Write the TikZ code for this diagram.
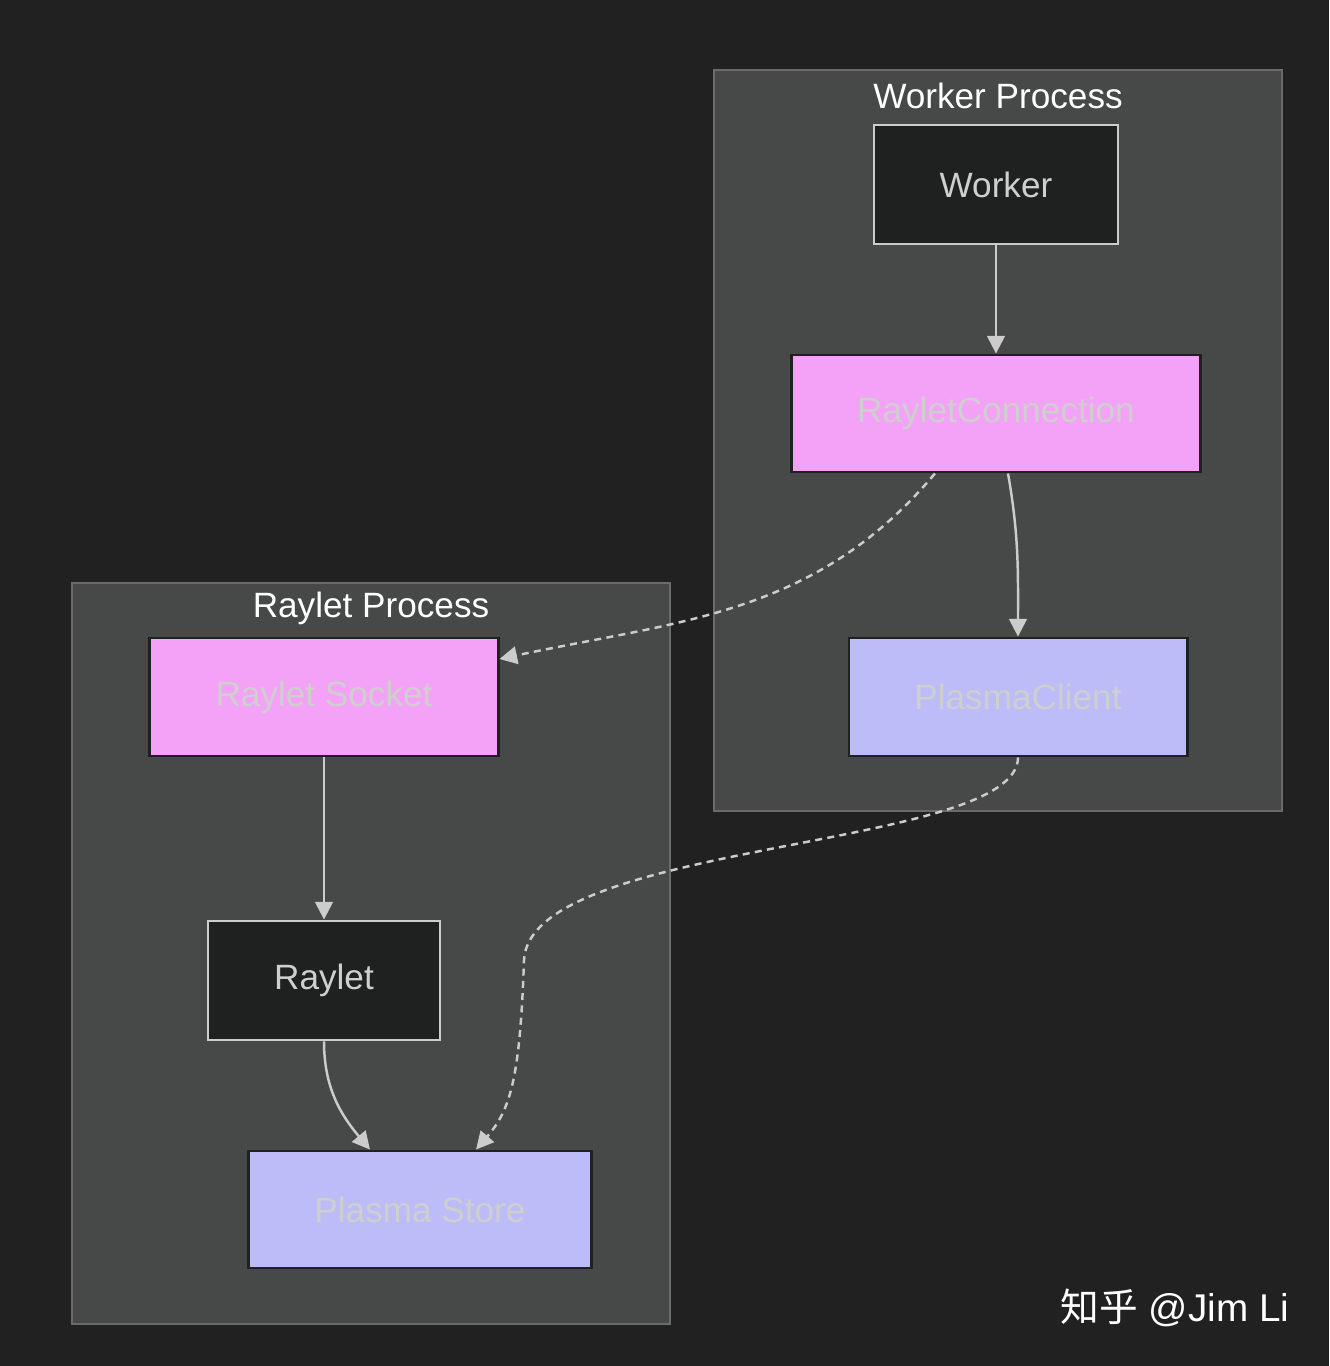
\documentclass[tikz,border=0pt]{standalone}
\usepackage{fontspec}
\setmainfont{Liberation Sans}
\newfontfamily\cjk{Noto Sans CJK SC}
\usetikzlibrary{arrows.meta}
\definecolor{bgdark}{HTML}{212121}
\definecolor{clusterfill}{HTML}{474848}
\definecolor{clusterline}{HTML}{6B6B6B}
\definecolor{nodedark}{HTML}{1F2020}
\definecolor{pinkfill}{HTML}{F4A2F7}
\definecolor{bluefill}{HTML}{BCBCF9}
\definecolor{edgegray}{HTML}{CCCCCC}
\definecolor{labelgray}{HTML}{CFCFCF}
\tikzset{
  box/.style={draw, line width=0.8pt, font=\fontsize{10}{12}\selectfont, text=labelgray},
  darkbox/.style={box, fill=nodedark, draw=edgegray},
  pinkbox/.style={box, fill=pinkfill, draw=nodedark},
  bluebox/.style={box, fill=bluefill, draw=nodedark},
  cluster/.style={fill=clusterfill, draw=clusterline, line width=0.8pt},
  title/.style={text=white, font=\fontsize{10}{12}\selectfont},
  flow/.style={draw=edgegray, line width=0.7pt, -{Triangle[length=5pt,width=5pt]}},
  link/.style={flow, dashed, dash pattern=on 2pt off 1.5pt}
}
\begin{document}
\begin{tikzpicture}[x=0.01cm, y=-0.01cm]
        % Background
        \fill[bgdark] (0,0) rectangle (1329,1366);
        
        % Worker Process
        \draw[cluster] (714,70) rectangle (1282,811);
        \node[title] (wtitle) at (998,96) {Worker Process};
        \node[darkbox, minimum width=2.44cm, minimum height=1.19cm] (worker) at (996,184.5) {Worker};
        \node[pinkbox, minimum width=4.08cm, minimum height=1.17cm] (rconn) at (996,413.5) {RayletConnection};
        \node[bluebox, minimum width=3.38cm, minimum height=1.18cm] (pclient) at (1018,697) {PlasmaClient};
        
        % Raylet Process
        \draw[cluster] (72,583) rectangle (670,1324);
        \node[title] (rtitle) at (371,608) {Raylet Process};
        \node[pinkbox, minimum width=3.48cm, minimum height=1.18cm] (rsocket) at (324,697) {Raylet Socket};
        \node[darkbox, minimum width=2.32cm, minimum height=1.19cm] (raylet) at (324,980.5) {Raylet};
        \node[bluebox, minimum width=3.42cm, minimum height=1.17cm] (pstore) at (420,1209.5) {Plasma Store};
        
        % Edges
        \draw[flow] (worker) -- (rconn);
        \draw[flow] ([xshift=0.12cm]rconn.south) to[out=-80, in=90] (pclient.north);
        \draw[link] ([xshift=-0.61cm]rconn.south) to[out=-130, in=12] ([yshift=0.38cm]rsocket.east);
        \draw[flow] (rsocket) -- (raylet);
        \draw[flow] (raylet.south) to[out=-90, in=130] ([xshift=-0.5cm]pstore.north);
        \draw[link] (pclient.south) .. controls (1018,850) and (530,840) .. (524,960) .. controls (520,1080) and (510,1110) .. ([xshift=0.56cm]pstore.north);
        
        % Watermark
        \node[text=white, font=\fontsize{11}{13}\selectfont] (mark) at (1175,1308) {{\cjk 知乎} @Jim Li};
    \end{tikzpicture}
\end{document}
